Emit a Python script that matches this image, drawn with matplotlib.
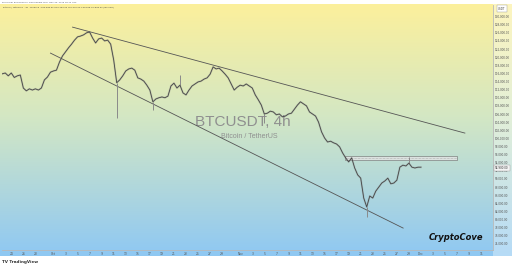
import numpy as np
import matplotlib
matplotlib.use("Agg")
import matplotlib.pyplot as plt
from matplotlib.colors import LinearSegmentedColormap

# ---------------- data (prices in thousands USDT) ----------------
start_time = "2025-09-22T00:00"          # first 12h sample
closes = [
    115.6, 115.9, 116.1, 115.4, 116.1, 115.0, 115.4, 115.6, 112.4, 111.7,
    112.2, 111.9, 112.2, 111.9, 112.4, 114.4, 115.1, 116.3, 116.6, 116.8,
    118.8, 120.3, 121.3, 122.3, 123.2, 124.2, 125.0, 125.2, 125.5, 126.0,
    126.2, 124.7, 123.5, 124.5, 124.7, 124.0, 124.2, 123.2, 119.3, 113.7,
    114.4, 115.4, 116.6, 117.1, 117.3, 116.8, 114.9, 114.6, 114.1, 113.1,
    111.9, 109.0, 109.7, 110.0, 110.2, 110.0, 110.4, 112.9, 113.6, 112.4,
    113.1, 111.2, 110.7, 111.9, 112.9, 113.4, 113.9, 114.1, 114.6, 114.9,
    115.8, 117.6, 117.1, 117.3, 116.6, 115.8, 114.9, 113.4, 111.9, 112.6,
    113.1, 112.9, 113.4, 112.9, 112.4, 110.7, 109.5, 108.2, 106.0, 106.2,
    106.7, 106.5, 105.8, 106.0, 105.3, 105.5, 106.0, 106.2, 107.2, 108.2,
    109.0, 108.5, 108.0, 106.5, 106.0, 105.5, 104.0, 101.6, 100.1, 99.1,
    99.3, 98.9, 98.6, 97.9, 96.4, 95.2, 94.2, 95.2, 92.7, 91.0,
    90.2, 85.3, 83.1, 85.8, 85.3, 87.0, 88.0, 89.0, 89.5, 90.2,
    88.8, 89.0, 89.7, 92.9, 93.4, 93.2, 93.9, 92.9, 92.7, 92.9,
    92.9,
]
wick_idx = [39, 51, 60, 88, 122, 136]
wick_end = [105.0, 107.0, 115.6, 103.8, 80.6, 95.4]

upper_t = ["2025-10-04T04:00", "2025-12-08T07:00"]
upper_p = [127.4, 101.3]
lower_t = ["2025-09-30T12:00", "2025-11-28T01:00"]
lower_p = [121.0, 77.9]
zone_t = ["2025-11-18T10:00", "2025-12-07T00:00"]
zone_p = [94.7, 95.7]

xtick_dates = ["2025-09-24", "2025-09-26", "2025-09-28", "2025-10-01", "2025-10-03",
               "2025-10-05", "2025-10-07", "2025-10-09", "2025-10-11", "2025-10-13",
               "2025-10-15", "2025-10-17", "2025-10-19", "2025-10-21", "2025-10-23",
               "2025-10-25", "2025-10-27", "2025-10-29", "2025-11-01", "2025-11-03",
               "2025-11-05", "2025-11-07", "2025-11-09", "2025-11-11", "2025-11-13",
               "2025-11-15", "2025-11-17", "2025-11-19", "2025-11-21", "2025-11-23",
               "2025-11-25", "2025-11-27", "2025-11-29", "2025-12-01", "2025-12-03",
               "2025-12-05", "2025-12-07", "2025-12-09", "2025-12-11"]
xtick_labels = ["24", "26", "28", "Oct", "3", "5", "7", "9", "11", "13", "15", "17",
                "19", "21", "23", "25", "27", "29", "Nov", "3", "5", "7", "9", "11",
                "13", "15", "17", "19", "21", "23", "25", "27", "29", "Dec", "3", "5",
                "7", "9", "11"]
ytick_vals = [74, 76, 78, 80, 82, 84, 86, 88, 90, 92, 94, 96, 98, 100, 102, 104, 106,
              108, 110, 112, 114, 116, 118, 120, 122, 124, 126, 128, 130]
last_price = 92.9

# ---------------- figure ----------------
W, H = 512, 268
fig = plt.figure(figsize=(W / 100, H / 100), dpi=100)
fig.patch.set_facecolor("white")

def fx(px):
    return px / W

def fy(py):
    return 1 - py / H

# gradient background
bg = fig.add_axes([0, fy(256), 1, (256 - 4) / H], zorder=0)
cmap = LinearSegmentedColormap.from_list(
    "g", [(0, "#fcf09c"), (0.45, "#d3e7c4"), (1.0, "#8fc8f3")])
grad = np.linspace(0, 1, 256).reshape(-1, 1)
bg.imshow(grad, aspect="auto", cmap=cmap, extent=[0, 1, 0, 1], origin="upper")
bg.add_patch(plt.Rectangle((493 / W, 0), 1, 1, transform=bg.transAxes,
                           facecolor="white", alpha=0.35, lw=0))
bg.axis("off")

ax = fig.add_axes([fx(2), fy(250), (493 - 2) / W, (250 - 5) / H], zorder=1)
ax.patch.set_alpha(0)

times = np.datetime64(start_time) + np.arange(len(closes)) * np.timedelta64(12, "h")
closes_a = np.array(closes)

ax.plot(times, closes_a, color="#8a8a8a", lw=1.4, alpha=0.35, zorder=3)
ax.plot(times, closes_a, color="#454545", lw=0.6, zorder=4)
ax.vlines(times[wick_idx], closes_a[wick_idx], wick_end, color="#8a8a8a", lw=0.7,
          zorder=3)

ax.plot(np.array(upper_t, dtype="datetime64[m]"), upper_p, color="#555555", lw=0.6,
        zorder=2)
ax.plot(np.array(lower_t, dtype="datetime64[m]"), lower_p, color="#555555", lw=0.6,
        zorder=2)

zt = np.array(zone_t, dtype="datetime64[m]")
ax.fill_between(zt, zone_p[0], zone_p[1], facecolor="#e4e4e4", edgecolor="#6a6a6a",
                lw=0.5, alpha=0.8, zorder=2)
ax.hlines((zone_p[0] + zone_p[1]) / 2, zt[0], zt[1], color="#8a8a8a", lw=0.4,
          linestyles=(0, (1, 1.5)), zorder=2)

ax.set_xlim(np.datetime64("2025-09-22T11:00"), np.datetime64("2025-12-12T23:00"))
ax.set_ylim(72.5, 132.85)

ax.set_xticks(np.array(xtick_dates, dtype="datetime64[D]"))
ax.set_xticklabels(xtick_labels, fontsize=2.2, color="#555555")
ax.set_yticks(ytick_vals)
ax.set_yticklabels([f"{v * 1000:,.2f}" for v in ytick_vals], fontsize=2.0,
                   color="#555555")
ax.yaxis.tick_right()
ax.tick_params(axis="both", length=0, pad=1.5)
for s in ["left", "top"]:
    ax.spines[s].set_visible(False)
ax.spines["right"].set_color("#b8b8b8")
ax.spines["bottom"].set_color("#b8b8b8")
ax.spines["right"].set_linewidth(0.6)
ax.spines["bottom"].set_linewidth(0.6)

# watermark
ax.text(fx(243), fy(122), "BTCUSDT, 4h", transform=fig.transFigure, ha="center",
        va="center", fontsize=11, color="#8f8f8f", family="Liberation Sans",
        zorder=1)
ax.text(fx(249), fy(136), "Bitcoin / TetherUS", transform=fig.transFigure,
        ha="center", va="center", fontsize=5, color="#8f8f8f",
        family="Liberation Sans", zorder=1)

# price axis boxes
fig.text(fx(502), fy(8.5), "USDT", fontsize=2.0, ha="center", va="center",
         color="#444444", bbox=dict(boxstyle="square,pad=0.4", fc="white",
                                    ec="#999999", lw=0.3), zorder=5)
fig.text(fx(502), fy(168), f"{last_price * 1000:,.2f}", fontsize=2.0, ha="center",
         va="center", color="#333333",
         bbox=dict(boxstyle="square,pad=0.5", fc="#f4f4f4", ec="#999999", lw=0.3),
         zorder=5)

# header / footer texts
fig.text(fx(2), fy(2.5), "salhiomar published on TradingView.com, Nov 30, 2025 18:12 UTC",
         fontsize=1.6, color="#555555", va="center", ha="left")
fig.text(fx(3), fy(7.5),
         "Bitcoin / TetherUS · 4h · Binance  O90,938.62 H91,153.00 L90,476.00 C90,858.01 −80.61 (−0.09%)",
         fontsize=1.6, color="#444444", va="center", ha="left", zorder=5)
fig.text(fx(2), fy(261.5), "TV TradingView", fontsize=3.0, color="#333333",
         va="center", ha="left", weight="bold")

fig.text(fx(456), fy(238), "CryptoCove", fontsize=6, style="italic", weight="bold",
         color="#111111", ha="center", va="center", zorder=5)

fig.savefig("out.png", dpi=100)
